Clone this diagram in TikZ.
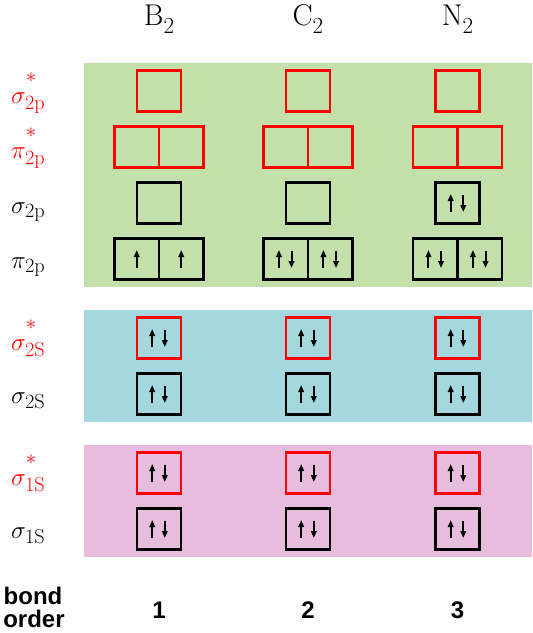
\documentclass[tikz,border=0pt]{standalone}
\usepackage{fontspec}
\newfontfamily\bsans{Liberation Sans}
\usetikzlibrary{arrows.meta}
\definecolor{gbg}{RGB}{195,223,170}
\definecolor{bbg}{RGB}{165,215,222}
\definecolor{pbg}{RGB}{232,188,220}
\definecolor{ored}{RGB}{255,0,0}
\tikzset{
 orb/.style={draw, line width=2.8pt, minimum width=44pt, minimum height=41pt, inner sep=0pt},
 aorb/.style={orb, draw=ored},
 half/.style={orb, minimum width=44.5pt},
 ahalf/.style={half, draw=ored},
 el/.style={line width=2pt, -{Triangle[length=7pt,width=5.5pt]}},
 mol/.style={font=\fontsize{30}{32}\selectfont, anchor=base},
 lab/.style={font=\fontsize{29}{32}\selectfont, anchor=base west, inner sep=0pt},
 bo/.style={font=\bsans\bfseries\fontsize{24}{25}\selectfont, anchor=base, inner sep=0pt},
}
\newcommand\eup[2]{\draw[el] ([xshift=#2pt,yshift=-8.5pt]#1.center) -- ++(0,17.5pt);}
\newcommand\edn[2]{\draw[el] ([xshift=#2pt,yshift=8.5pt]#1.center) -- ++(0,-17.5pt);}
\newcommand\epair[1]{\eup{#1}{-6.8}\edn{#1}{5.8}}
\newcommand\mstar{\raisebox{11pt}{$\scriptstyle\ast$}}
\newcommand\msub[1]{\raisebox{-8pt}{\fontsize{23}{23}\selectfont #1}}
\begin{document}
\begin{tikzpicture}[x=1pt,y=-1pt]
\useasboundingbox (0,0) rectangle (533,633);
\fill[gbg] (84,63) rectangle (532,287);
\fill[bbg] (84,310) rectangle (532,422);
\fill[pbg] (84,445) rectangle (532,557);
% molecule headers
\node[mol] (mB) at (159,25) {B\msub{2}};
\node[mol] (mC) at (308,25) {C\msub{2}};
\node[mol] (mN) at (457.5,25) {N\msub{2}};
% orbital labels
\node[lab, text=ored] (l1) at (11,103) {$\sigma^{\mstar}_{\mathrm{2p}}$};
\node[lab, text=ored] (l2) at (11,158) {$\pi^{\mstar}_{\mathrm{2p}}$};
\node[lab] (l3) at (11,213) {$\sigma_{\mathrm{2p}}$};
\node[lab] (l4) at (11,268) {$\pi_{\mathrm{2p}}$};
\node[lab, text=ored] (l5) at (11,350) {$\sigma^{\mstar}_{\mathrm{2S}}$};
\node[lab] (l6) at (11,403) {$\sigma_{\mathrm{2S}}$};
\node[lab, text=ored] (l7) at (11,485) {$\sigma^{\mstar}_{\mathrm{1S}}$};
\node[lab] (l8) at (11,538) {$\sigma_{\mathrm{1S}}$};
% orbital boxes
\foreach \m/\cx in {B/159, C/308, N/457.5}{
  \node[aorb] (\m-s2pa) at (\cx,91) {};
  \node[ahalf] (\m-p2pa1) at (\cx-22.25,147) {};
  \node[ahalf] (\m-p2pa2) at (\cx+22.25,147) {};
  \node[orb] (\m-s2p) at (\cx,203) {};
  \node[half] (\m-p2p1) at (\cx-22.25,259) {};
  \node[half] (\m-p2p2) at (\cx+22.25,259) {};
  \node[aorb] (\m-s2sa) at (\cx,338) {};
  \node[orb] (\m-s2s) at (\cx,394) {};
  \node[aorb] (\m-s1sa) at (\cx,473) {};
  \node[orb] (\m-s1s) at (\cx,529) {};
  \epair{\m-s2sa}\epair{\m-s2s}\epair{\m-s1sa}\epair{\m-s1s}
}
% electrons
\eup{B-p2p1}{0}\eup{B-p2p2}{0}
\epair{C-p2p1}\epair{C-p2p2}
\epair{N-s2p}\epair{N-p2p1}\epair{N-p2p2}
% bond order
\node[bo] (bond) at (33,604) {bond};
\node[bo] (order) at (34,627) {order};
\node[bo] (n1) at (159,618) {1};
\node[bo] (n2) at (308,618) {2};
\node[bo] (n3) at (457.5,618) {3};
\end{tikzpicture}
\end{document}
